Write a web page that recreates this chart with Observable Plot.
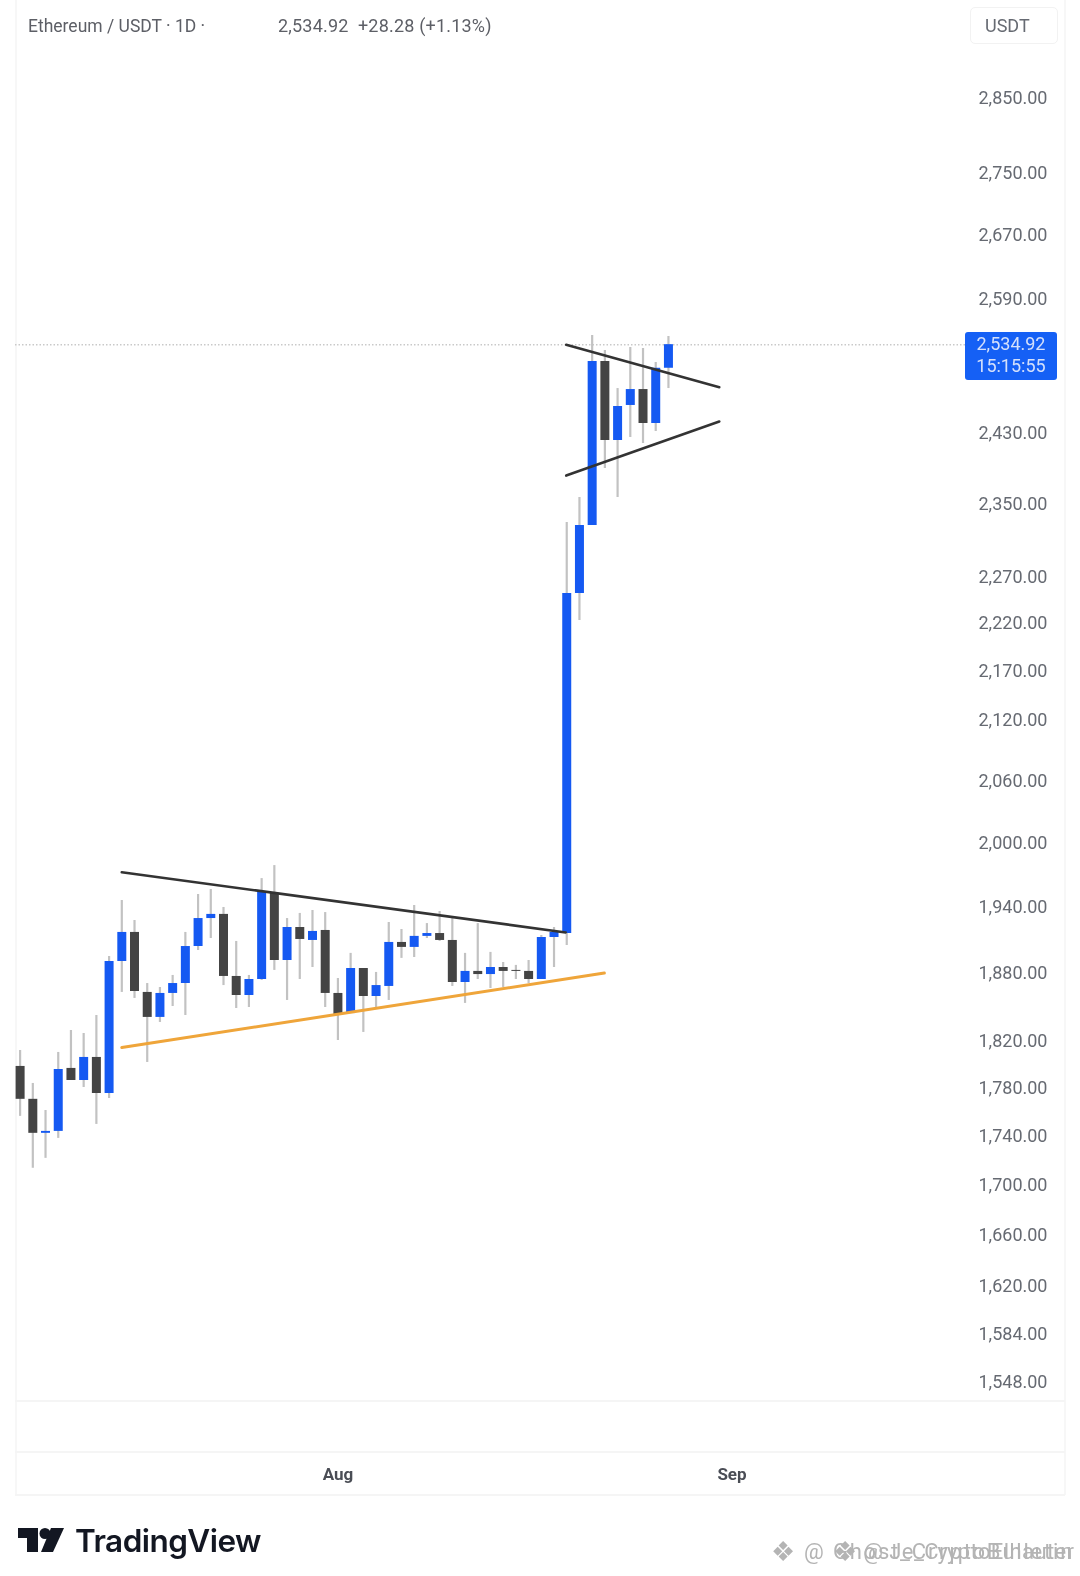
<!DOCTYPE html>
<html>
<head>
<meta charset="utf-8">
<script src="https://cdn.jsdelivr.net/npm/d3@7"></script>
<script src="https://cdn.jsdelivr.net/npm/@observablehq/plot@0.6"></script>
<style>
html,body{margin:0;padding:0;background:#fff;}
#page{position:relative;width:1080px;height:1576px;overflow:hidden;background:#fff;font-family:Roboto,sans-serif;filter:blur(0.55px);}
#chart{position:absolute;left:0;top:0;}
#chart svg{background:transparent;display:block;}
.abs{position:absolute;white-space:pre;}
.hline{position:absolute;left:15px;width:1050px;height:2px;background:#f5f5f5;}
.vline{position:absolute;top:0;width:2px;background:#f7f7f7;}
.dia{font-size:27px;vertical-align:-2px;}
</style>
</head>
<body>
<div id="page">
  <div class="vline" style="left:15px;height:1495px"></div>
  <div class="vline" style="left:1064px;height:1495px"></div>
  <div class="hline" style="top:1400px"></div>
  <div class="hline" style="top:1451px"></div>
  <div class="hline" style="top:1494px"></div>
  <div id="chart"></div>
  <div class="abs" style="left:28px;top:15px;font-size:17.5px;color:#5d5f66;line-height:22px">Ethereum / USDT · 1D ·</div>
  <div class="abs" style="left:278px;top:15px;font-size:18px;letter-spacing:.2px;color:#5d5f66;line-height:22px">2,534.92  +28.28 (+1.13%)</div>
  <div class="abs" style="left:970px;top:7px;width:88px;height:37px;border:1px solid #f2f2f2;border-radius:5px;box-sizing:border-box"></div>
  <div class="abs" style="left:985px;top:7px;line-height:37px;font-size:18px;color:#666a72">USDT</div>
  <div class="abs" style="left:965px;top:332px;width:92px;height:48px;border-radius:3px;background:#1560f5;color:#d4e0fb;font-size:18px;line-height:22px;text-align:center;padding-top:1px;box-sizing:border-box">2,534.92<br>15:15:55</div>
  <svg class="abs" style="left:18px;top:1528px" width="46" height="24" viewBox="0 0 46 24"><path fill="#131722" d="M0 0H20V24H9V10H0Z"/><circle fill="#131722" cx="27" cy="5.5" r="5.5"/><path fill="#131722" d="M33 0H46L35 24H23Z"/></svg>
  <div class="abs" style="left:75px;top:1521px;font-family:Inter,sans-serif;font-weight:600;font-size:31.5px;line-height:40px;letter-spacing:-0.55px;color:#131722">TradingView</div>
  <div class="abs" style="left:771px;top:1538px;font-size:22px;line-height:28px;letter-spacing:1.8px;color:#b4b4b4"><span class="dia">❖</span> @ Ghost_CryptoBulletin</div>
  <div class="abs" style="left:833px;top:1538px;font-size:22px;line-height:28px;letter-spacing:.4px;color:#b4b4b4"><span class="dia">❖</span> @ Je_CryptoElhauter</div>
</div>
<script>
const firstDay = "2025-07-07";
const highs = [1812.4,1784.2,1761.4,1810.7,1829.7,1827.1,1842.8,1895.2,1946.3,1927.9,1871,1867.5,1878.2,1917,1951.9,1956.5,1939.9,1908.8,1878.2,1966.7,1978.9,1929.7,1934.4,1937.1,1935.2,1875.5,1898,1884.4,1880.9,1926.1,1919.7,1941.7,1925.1,1936.2,1929.7,1898,1925.1,1898.9,1889.8,1887.2,1891.6,1914.2,1921.5,2329.4,2357.3,2546,2527.9,2482.6,2531.5,2530.3,2513.5,2544.8];
const lows = [1756.5,1713.7,1721.8,1738.2,1786.7,1780.8,1749.8,1771.5,1863.1,1857.8,1802.1,1836.7,1850.7,1842.8,1900.6,1911.5,1869.2,1848.9,1849.8,1873.7,1882.7,1856,1874.6,1885.3,1849.8,1821,1844.5,1828,1849.8,1856,1893.5,1894.3,1911.5,1908.8,1868.4,1853.4,1874.6,1866.6,1867.5,1874.6,1871,1874.6,1885.3,1905.1,2223.4,2326.1,2390,2357.3,2425.5,2418.6,2432.4,2482.6];
const opens = [1798.7,1770.8,1742.4,1744,1797,1786.7,1806.4,1775.7,1890.7,1917,1863.1,1841.1,1862.2,1871,1904.2,1929.7,1933.5,1877.3,1860.4,1874.6,1952.8,1891.6,1921.5,1909.7,1918.8,1862.2,1844.5,1884.4,1859.5,1868.4,1907.9,1903.4,1913.4,1916,1909.7,1871.9,1881.8,1879,1885.3,1882.7,1881.8,1874.6,1912.4,1916,2252.1,2326.1,2514.7,2422,2462.7,2481.4,2441.7,2506.64];
const closes = [1770.8,1742.4,1744,1796.1,1786.7,1806.4,1775.7,1890.7,1917,1863.9,1841.1,1862.2,1871,1904.2,1929.7,1933.5,1877.3,1860.4,1874.6,1954.7,1891.6,1921.5,1910.6,1917.9,1862.2,1843.7,1884.4,1859.5,1869.2,1907.9,1903.4,1913.4,1916,1909.7,1871.9,1881.8,1879,1885.3,1881.8,1881.8,1874.6,1912.4,1917,2252.1,2326.1,2514.7,2422,2461.5,2481.4,2441.7,2506.64,2534.92];
const priceTicks = [2850,2750,2670,2590,2430,2350,2270,2220,2170,2120,2060,2000,1940,1880,1820,1780,1740,1700,1660,1620,1584,1548];
const monthTicks = ["2025-08-01","2025-09-01"];
const lastPrice = 2534.92;
const resistanceLine = [["2025-07-15T00:00Z",1972.6],["2025-08-18T22:00Z",1917]];
const supportLine = [["2025-07-15T00:00Z",1814.9],["2025-08-21T23:00Z",1880.3]];
const pennantTop = [["2025-08-18T23:00Z",2534.7],["2025-08-31T00:00Z",2484.2]];
const pennantBottom = [["2025-08-18T23:00Z",2382],["2025-08-31T00:00Z",2444]];

const UP = "#1559f2", DOWN = "#444444", WICK = "#c2c2c2";
const start = new Date(firstDay + "T00:00Z");
const candles = opens.map((o, i) => ({
  date: d3.utcDay.offset(start, i),
  open: o, close: closes[i], high: highs[i], low: lows[i]
}));
const pts = a => a.map(([t, p]) => ({t: new Date(t), p}));

const chart = Plot.plot({
  width: 1080,
  height: 1576,
  marginLeft: 15,
  marginRight: 105,
  marginTop: 0,
  marginBottom: 112,
  style: {background: "transparent", fontFamily: "Roboto, sans-serif"},
  x: {type: "utc", domain: [start, new Date("2025-09-01T00:00Z")], range: [19.6, 731.5], label: null},
  y: {type: "log", domain: [1548, 2850], range: [1381.7, 97.7], label: null},
  marks: [
    Plot.ruleY([lastPrice], {stroke: "#c9c9c9", strokeWidth: 1.5, strokeDasharray: "1.5,2"}),
    Plot.ruleX(candles, {x: "date", y1: "low", y2: "high", stroke: WICK, strokeWidth: 2.2}),
    Plot.ruleX(candles, {x: "date", y1: "open", y2: "close", stroke: d => d.close >= d.open ? UP : DOWN, strokeWidth: 9}),
    Plot.line(pts(resistanceLine), {x: "t", y: "p", stroke: "#333", strokeWidth: 2.6}),
    Plot.line(pts(supportLine), {x: "t", y: "p", stroke: "#efa53a", strokeWidth: 3}),
    Plot.line(pts(pennantTop), {x: "t", y: "p", stroke: "#333", strokeWidth: 2.6}),
    Plot.line(pts(pennantBottom), {x: "t", y: "p", stroke: "#333", strokeWidth: 2.6}),
    Plot.axisY(priceTicks, {anchor: "right", tickSize: 0, tickPadding: 3, tickFormat: d3.format(",.2f"), fontSize: 18, fill: "#666a72", label: null}),
    Plot.axisX(monthTicks.map(d => new Date(d + "T00:00Z")), {anchor: "bottom", tickSize: 0, tickPadding: 3, tickFormat: d3.utcFormat("%b"), fontSize: 17, fontWeight: 700, fill: "#4a4d55", label: null})
  ]
});
document.getElementById("chart").append(chart);
</script>
</body>
</html>
